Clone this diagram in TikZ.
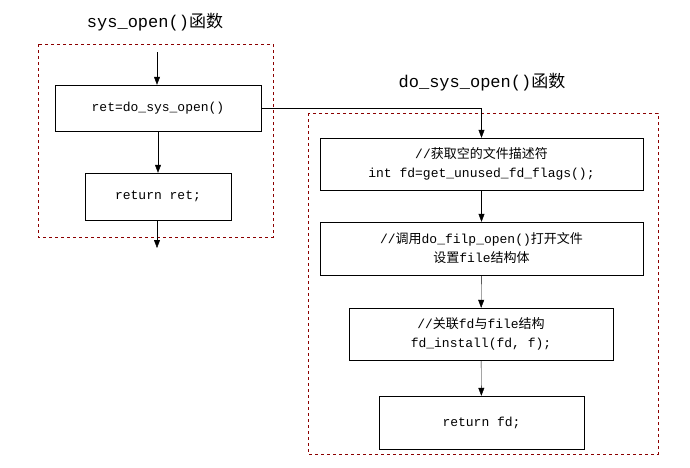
\documentclass[tikz,border=0pt]{standalone}
\usepackage{fontspec}
\setmainfont{Liberation Mono}
\newfontfamily\cjk{Noto Sans CJK SC}
\usetikzlibrary{arrows.meta}
\begin{document}
\begin{tikzpicture}[x=1pt,y=-1pt,
  box/.style={draw,thin,align=center,font=\fontsize{13}{19}\selectfont,inner sep=0pt},
  grp/.style={draw=red!55!black,dashed,thick},
  arr/.style={-{Triangle[length=8pt,width=6pt]},thin},
  ttl/.style={font=\fontsize{17}{20}\selectfont}]
\useasboundingbox (0,0) rectangle (690,467);
\node[ttl] (t1) at (155,22) {sys\_open()\cjk{函数}};
\draw[grp] (38,44) rectangle (273,237);
\coordinate (s0) at (157,52);
\node[box,minimum width=206pt,minimum height=46pt] (a) at (158,108) {ret=do\_sys\_open()};
\node[box,minimum width=146pt,minimum height=47pt] (b) at (158,196.5) {return ret;};
\coordinate (s1) at (157,248);
\draw[arr] (s0) -- (a.north -| s0);
\draw[arr] (a) -- (b);
\draw[arr] (b.south -| s1) -- (s1);
\node[ttl] (t2) at (482,82) {do\_sys\_open()\cjk{函数}};
\draw[grp] (308,113) rectangle (658,454);
\node[box,minimum width=323pt,minimum height=52pt] (c) at (481.5,164) {//{\cjk 获取空的文件描述符}\\int fd=get\_unused\_fd\_flags();};
\node[box,minimum width=323pt,minimum height=53pt] (d) at (481.5,248.5) {//{\cjk 调用}do\_filp\_open(){\cjk 打开文件}\\{\cjk 设置}file{\cjk 结构体}};
\node[box,minimum width=264pt,minimum height=52pt] (e) at (481,334) {//{\cjk 关联}fd{\cjk 与}file{\cjk 结构}\\fd\_install(fd, f);};
\node[box,minimum width=205pt,minimum height=53pt] (f) at (481.5,422.5) {return fd;};
\draw[arr] (a.east) -- (a.east -| c.north) -- (c.north);
\draw[arr] (c) -- (d);
\draw[arr] (d) -- (e);
\draw[arr] (e) -- (f);
\end{tikzpicture}
\end{document}
